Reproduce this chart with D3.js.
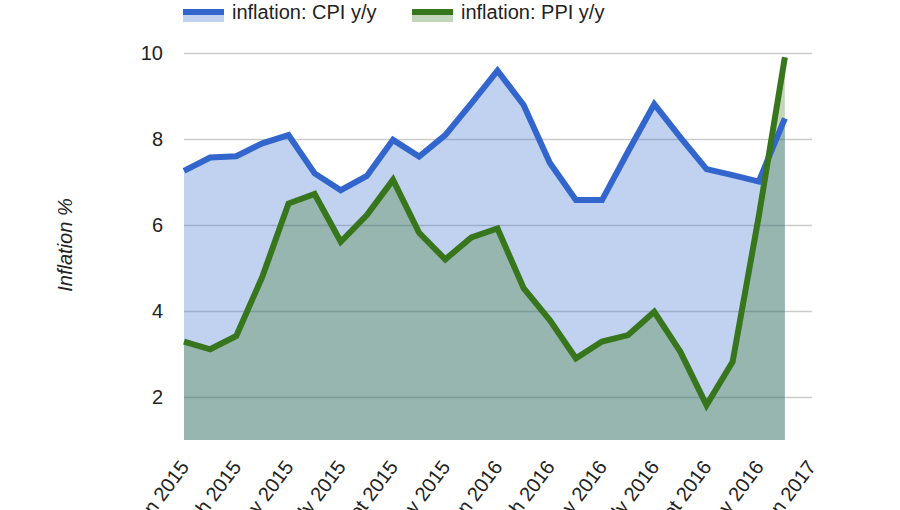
<!DOCTYPE html>
<html>
<head>
<meta charset="utf-8">
<script src="https://cdn.jsdelivr.net/npm/d3@7"></script>
<style>
  html, body { margin: 0; padding: 0; background: #fff; overflow: hidden; }
  svg { display: block; font-family: "Liberation Sans", Arial, sans-serif; }
</style>
</head>
<body>
<svg id="chart" width="900" height="510"></svg>
<script>
// ---- data ----
const months = ["Jan 2015","Feb 2015","Mar 2015","Apr 2015","May 2015","Jun 2015","Jul 2015","Aug 2015","Sep 2015","Oct 2015","Nov 2015","Dec 2015",
                "Jan 2016","Feb 2016","Mar 2016","Apr 2016","May 2016","Jun 2016","Jul 2016","Aug 2016","Sep 2016","Oct 2016","Nov 2016","Dec 2016"];
const cpi = [7.26, 7.57, 7.60, 7.90, 8.09, 7.20, 6.81, 7.14, 7.98, 7.59, 8.09, 8.83,
             9.59, 8.79, 7.45, 6.58, 6.58, 7.71, 8.81, 8.04, 7.30, 7.16, 7.01, 8.48];
const ppi = [3.29, 3.11, 3.42, 4.80, 6.50, 6.72, 5.61, 6.23, 7.05, 5.82, 5.20, 5.71,
             5.92, 4.53, 3.79, 2.90, 3.29, 3.44, 3.98, 3.05, 1.81, 2.82, 6.20, 9.90];
const tickLabels = ["Jan 2015","March 2015","May 2015","July 2015","Sept 2015","Nov 2015",
                    "Jan 2016","March 2016","May 2016","July 2016","Sept 2016","Nov 2016","Jan 2017"];
const yTicks = [2, 4, 6, 8, 10];
const seriesNames = ["inflation: CPI y/y", "inflation: PPI y/y"];
const colors = ["#3366cc", "#38761d"];

// ---- layout ----
const svg = d3.select("#chart");
const plotLeft = 184, plotRight = 811, plotTop = 53, plotBottom = 440;

const x = d3.scaleLinear().domain([0, 24]).range([plotLeft, plotRight]);
const y = d3.scaleLinear().domain([1, 10]).range([plotBottom, plotTop]);

// gridlines
const yAxis = d3.axisLeft(y).tickValues(yTicks).tickSize(-(plotRight - plotLeft + 1)).tickFormat(d3.format("d")).tickPadding(21);
const gy = svg.append("g").attr("transform", `translate(${plotLeft},0)`).call(yAxis);
gy.select(".domain").remove();
gy.selectAll(".tick line").attr("stroke", "#cccccc").attr("stroke-width", 1.3);
gy.selectAll(".tick text").attr("fill", "#222").attr("font-size", 20)
  .attr("font-family", "Liberation Sans, Arial, sans-serif");

// areas
const series = [cpi, ppi];
const area = d3.area().x((d, i) => x(i)).y0(plotBottom).y1(d => y(d));
const line = d3.line().x((d, i) => x(i)).y(d => y(d));

series.forEach((s, k) => {
  svg.append("path").attr("d", area(s)).attr("fill", colors[k]).attr("fill-opacity", 0.3);
});
series.forEach((s, k) => {
  svg.append("path").attr("d", line(s)).attr("fill", "none")
    .attr("stroke", colors[k]).attr("stroke-width", 6).attr("stroke-linejoin", "miter");
});

// x labels (rotated)
const gx = svg.append("g");
tickLabels.forEach((t, j) => {
  const px = x(j * 2) + 6, py = 467;
  gx.append("text").attr("transform", `translate(${px},${py}) rotate(-53)`)
    .attr("text-anchor", "end").attr("font-size", 20).attr("fill", "#222").text(t);
});

// axis title
svg.append("text").attr("transform", "translate(72,245) rotate(-90)")
  .attr("text-anchor", "middle").attr("font-size", 20).attr("font-style", "italic")
  .attr("fill", "#222").text("Inflation %");

// legend
const legendX = [183, 412];
seriesNames.forEach((n, k) => {
  const g = svg.append("g").attr("transform", `translate(${legendX[k]},0)`);
  g.append("rect").attr("x", 0).attr("y", 15).attr("width", 41).attr("height", 7)
    .attr("fill", colors[k]).attr("fill-opacity", 0.3);
  g.append("rect").attr("x", 0).attr("y", 9).attr("width", 41).attr("height", 6)
    .attr("fill", colors[k]);
  g.append("text").attr("x", 49).attr("y", 19).attr("font-size", 20).attr("fill", "#222").text(n);
});
</script>
</body>
</html>
